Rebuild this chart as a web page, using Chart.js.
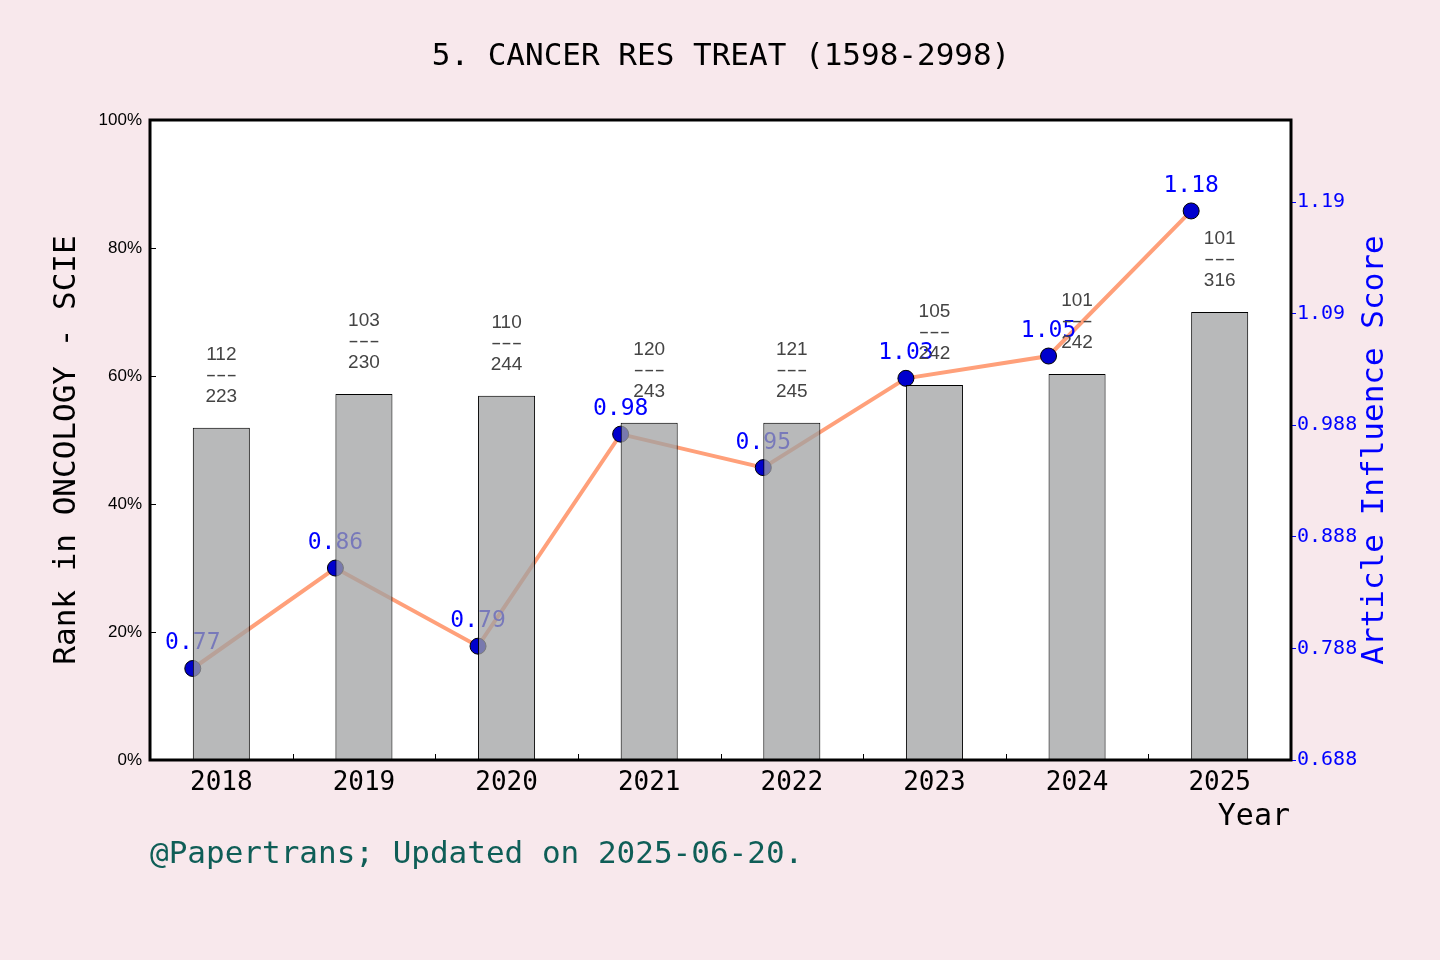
<!DOCTYPE html>
<html>
<head>
<meta charset="utf-8">
<script src="https://cdn.jsdelivr.net/npm/chart.js@4.4.1/dist/chart.umd.min.js"></script>
<style>
  html, body { margin: 0; padding: 0; background: #f8e8ec; }
</style>
</head>
<body>
<canvas id="chart" width="1440" height="960"></canvas>
<script>
// data
const years = ['2018', '2019', '2020', '2021', '2022', '2023', '2024', '2025'];
const rankPct = [51.9, 57.2, 56.9, 52.7, 52.7, 58.6, 60.3, 70.0];
const ranks = [112, 103, 110, 120, 121, 105, 101, 101];
const totals = [223, 230, 244, 243, 245, 242, 242, 316];
const aisScore = [0.77, 0.86, 0.79, 0.98, 0.95, 1.03, 1.05, 1.18];
const leftTicks = [0, 20, 40, 60, 80, 100];
const rightTicks = [0.688, 0.788, 0.888, 0.988, 1.088, 1.188];

const MONO = '"DejaVu Sans Mono", "Liberation Mono", monospace';
const SANS = '"Liberation Sans", Arial, sans-serif';
const lineShift = 0.2; // line points sit on the left edge of each bar

// Paint page background and white plot area
const backdrop = {
    id: 'backdrop',
    beforeDraw(chart) {
        const { ctx, chartArea: a } = chart;
        ctx.save();
        ctx.fillStyle = '#f8e8ec';
        ctx.fillRect(0, 0, chart.width, chart.height);
        ctx.fillStyle = '#ffffff';
        ctx.fillRect(a.left, a.top, a.right - a.left, a.bottom - a.top);
        ctx.restore();
    }
};

// Value labels of the line, drawn before the bars so the bars cover them
const lineLabels = {
    id: 'lineLabels',
    afterDatasetDraw(chart, args) {
        if (args.index !== 1) return;
        const ctx = chart.ctx;
        ctx.save();
        ctx.font = '23px ' + MONO;
        ctx.fillStyle = '#0000ff';
        ctx.textAlign = 'center';
        ctx.textBaseline = 'middle';
        args.meta.data.forEach((pt, i) => {
            ctx.fillText(aisScore[i].toFixed(2), pt.x, pt.y - 25);
        });
        ctx.restore();
    }
};

// Rank labels, frame, inner ticks and the free texts
const extras = {
    id: 'extras',
    afterDatasetsDraw(chart) {
        const { ctx, chartArea: a } = chart;
        const bars = chart.getDatasetMeta(0).data;
        ctx.save();
        ctx.fillStyle = '#444444';
        ctx.textAlign = 'center';
        ctx.textBaseline = 'middle';
        bars.forEach((b, i) => {
            ctx.font = '19px ' + SANS;
            ctx.fillText(String(totals[i]), b.x, b.y - 31);
            ctx.fillText(String(ranks[i]), b.x, b.y - 73);
            // the dashes are stretched a bit to match the wide separator
            ctx.save();
            ctx.translate(b.x, b.y - 52);
            ctx.scale(1.65, 1);
            ctx.fillText('---', 0, 0);
            ctx.restore();
        });

        // frame
        ctx.strokeStyle = '#000';
        ctx.lineWidth = 3;
        ctx.strokeRect(a.left, a.top, a.right - a.left, a.bottom - a.top);

        // inward ticks on left and bottom
        ctx.lineWidth = 1;
        const y = chart.scales.y;
        leftTicks.forEach(v => {
            const py = Math.round(y.getPixelForValue(v)) + 0.5;
            ctx.beginPath();
            ctx.moveTo(a.left, py);
            ctx.lineTo(a.left + 6, py);
            ctx.stroke();
        });
        const xl = chart.scales.xl;
        for (let k = 0; k < years.length - 1; k++) {
            const px = Math.round(xl.getPixelForValue(k + 0.5)) + 0.5;
            ctx.beginPath();
            ctx.moveTo(px, a.bottom);
            ctx.lineTo(px, a.bottom - 6);
            ctx.stroke();
        }
        ctx.restore();
    },
    afterDraw(chart) {
        const ctx = chart.ctx;
        ctx.save();
        ctx.textBaseline = 'middle';

        ctx.font = '31px ' + MONO;
        ctx.fillStyle = '#000';
        ctx.textAlign = 'center';
        ctx.fillText('5. CANCER RES TREAT (1598-2998)', 721, 57);

        ctx.font = '30px ' + MONO;
        ctx.textAlign = 'right';
        ctx.fillText('Year', 1290, 817);

        ctx.font = '31px ' + MONO;
        ctx.textAlign = 'left';
        ctx.fillStyle = '#0f5e57';
        ctx.fillText('@Papertrans; Updated on 2025-06-20.', 150, 855);

        // axis titles
        ctx.textAlign = 'center';
        ctx.save();
        ctx.translate(67, 450);
        ctx.rotate(-Math.PI / 2);
        ctx.fillStyle = '#000';
        ctx.fillText('Rank in ONCOLOGY - SCIE', 0, 0);
        ctx.restore();

        ctx.save();
        ctx.translate(1375, 450);
        ctx.rotate(-Math.PI / 2);
        ctx.fillStyle = '#0000ff';
        ctx.fillText('Article Influence Score', 0, 0);
        ctx.restore();

        ctx.restore();
    }
};

const ctx = document.getElementById('chart').getContext('2d');
const chart = new Chart(ctx, {
    data: {
        labels: years,
        datasets: [
            {
                type: 'bar',
                label: 'Rank',
                data: rankPct,
                xAxisID: 'x',
                yAxisID: 'y',
                backgroundColor: 'rgba(160, 161, 163, 0.75)',
                borderColor: '#000',
                borderWidth: 1,
                grouped: false,
                barPercentage: 0.4,
                categoryPercentage: 1.0,
                order: 0
            },
            {
                type: 'line',
                label: 'Article Influence Score',
                data: aisScore.map((v, i) => ({ x: i - lineShift, y: v })),
                xAxisID: 'xl',
                yAxisID: 'y1',
                borderColor: '#ffa07a',
                borderWidth: 4,
                tension: 0,
                pointRadius: 8,
                pointBackgroundColor: '#0000cd',
                pointBorderColor: '#000',
                pointBorderWidth: 1,
                order: 1
            }
        ]
    },
    options: {
        responsive: false,
        devicePixelRatio: 1,
        animation: false,
        layout: { padding: { top: 120, bottom: 0, left: 0, right: 0 } },
        plugins: {
            legend: { display: false },
            tooltip: { enabled: false },
            title: { display: false }
        },
        scales: {
            x: {
                type: 'category',
                offset: true,
                grid: { display: false },
                border: { display: false },
                ticks: {
                    color: '#000',
                    font: { family: MONO, size: 26 },
                    padding: 0,
                    maxRotation: 0
                },
                afterFit: s => { s.height = 200; }
            },
            xl: {
                type: 'linear',
                display: false,
                min: -0.5,
                max: years.length - 0.5
            },
            y: {
                position: 'left',
                min: 0,
                max: 100,
                afterBuildTicks: s => { s.ticks = leftTicks.map(v => ({ value: v })); },
                grid: { drawOnChartArea: false, drawTicks: false },
                border: { display: false },
                ticks: {
                    color: '#000',
                    font: { family: SANS, size: 17 },
                    padding: 8,
                    callback: v => v + '%'
                },
                afterFit: s => { s.width = 150; }
            },
            y1: {
                position: 'right',
                min: 0.688,
                max: 1.2615,
                afterBuildTicks: s => { s.ticks = rightTicks.map(v => ({ value: v })); },
                grid: { drawOnChartArea: false, tickLength: 5, color: '#0000ff' },
                border: { display: false },
                ticks: {
                    color: '#0000ff',
                    font: { family: MONO, size: 20 },
                    padding: 1,
                    callback: v => Number(v).toPrecision(3)
                },
                afterFit: s => { s.width = 149; }
            }
        }
    },
    plugins: [backdrop, lineLabels, extras]
});
</script>
</body>
</html>
